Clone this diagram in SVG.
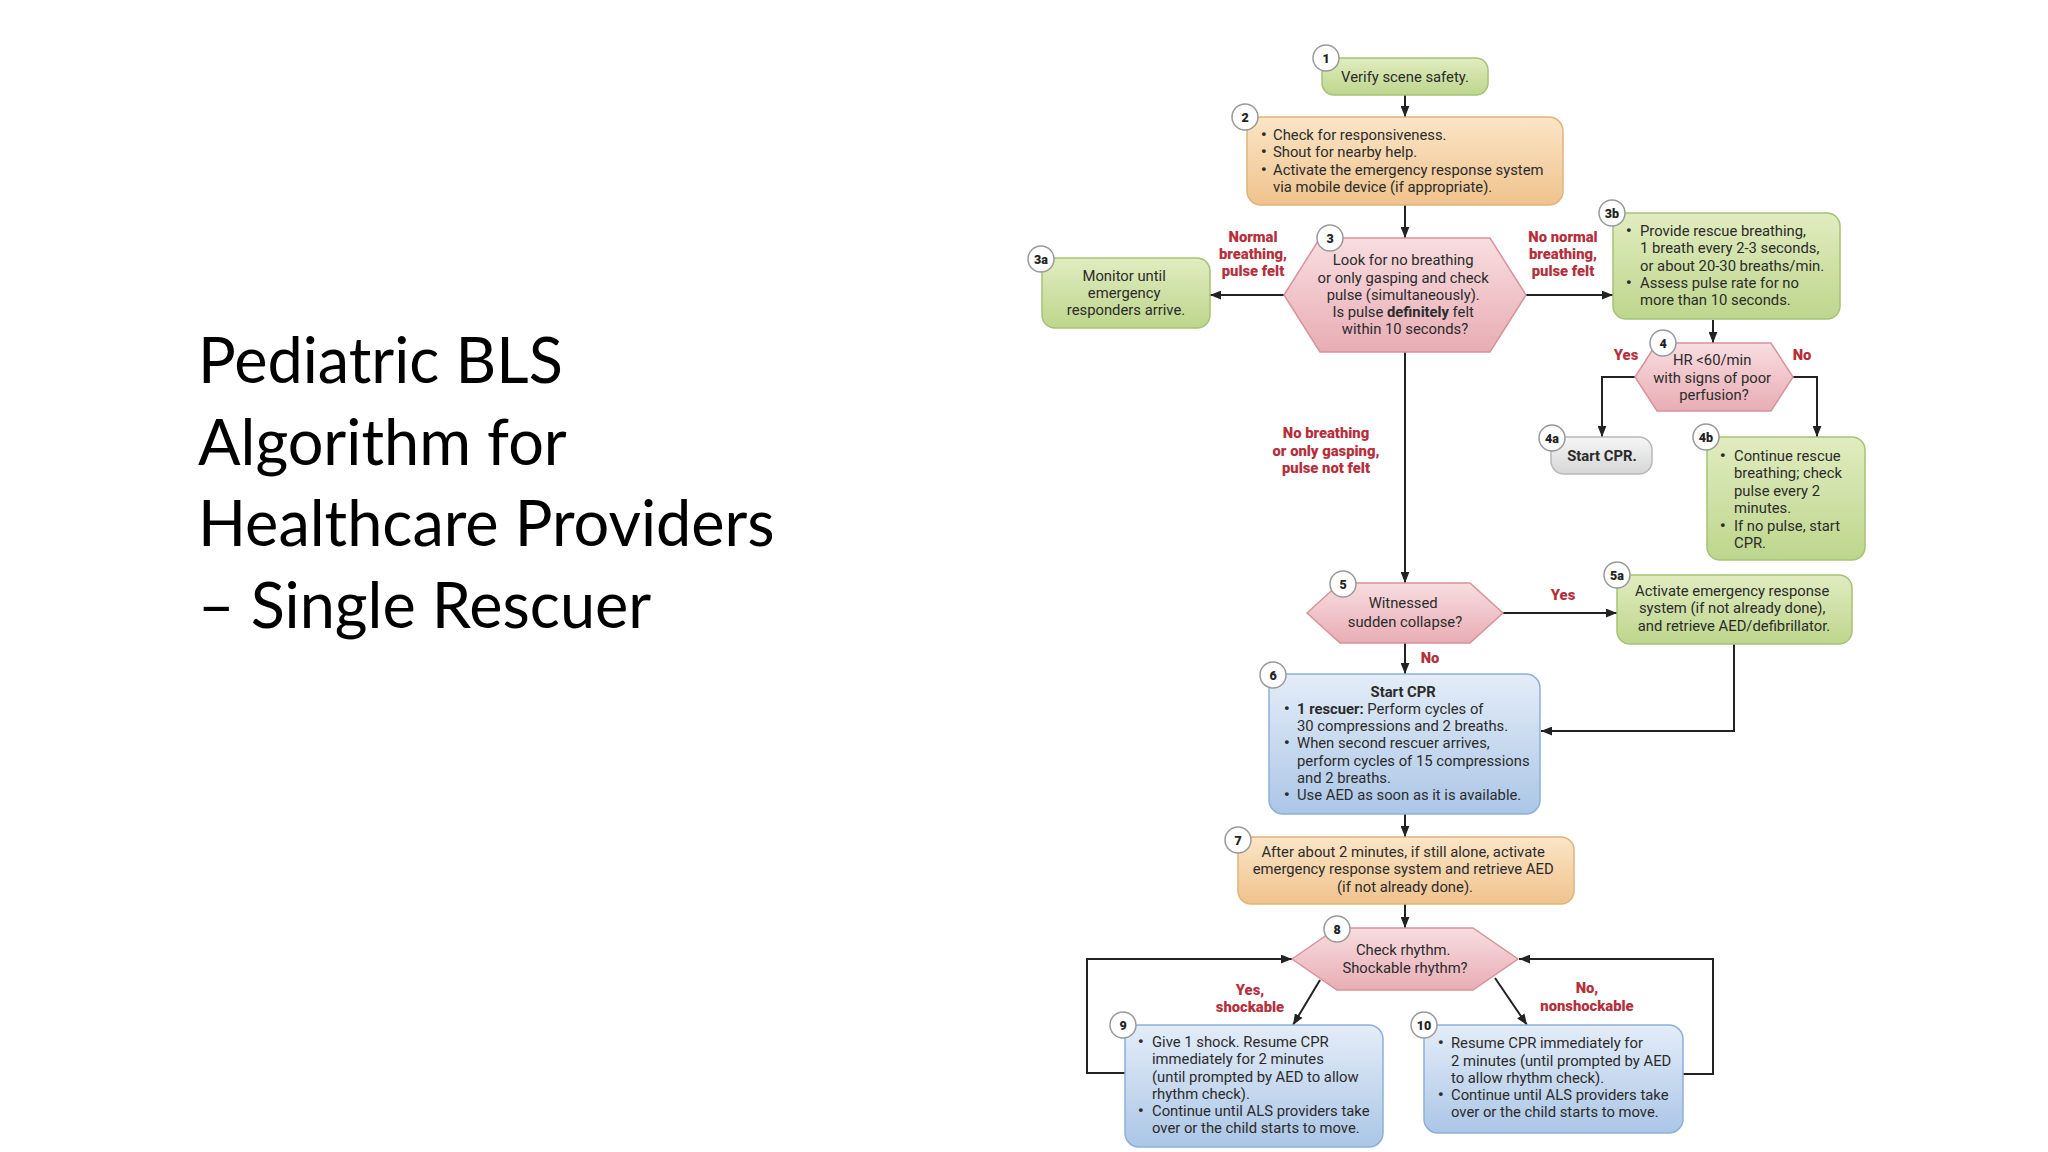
<svg xmlns="http://www.w3.org/2000/svg" width="2048" height="1152" viewBox="0 0 2048 1152">
<defs>
<linearGradient id="gGreen" x1="0" y1="0" x2="0" y2="1"><stop offset="0" stop-color="#e1ecc0"/><stop offset="1" stop-color="#bdd68c"/></linearGradient>
<linearGradient id="gOrange" x1="0" y1="0" x2="0" y2="1"><stop offset="0" stop-color="#fbe5c6"/><stop offset="1" stop-color="#efc38d"/></linearGradient>
<linearGradient id="gPink" x1="0" y1="0" x2="0" y2="1"><stop offset="0" stop-color="#f8dde0"/><stop offset="1" stop-color="#e8adb4"/></linearGradient>
<linearGradient id="gBlue" x1="0" y1="0" x2="0" y2="1"><stop offset="0" stop-color="#e4edf8"/><stop offset="1" stop-color="#abc6e6"/></linearGradient>
<linearGradient id="gGray" x1="0" y1="0" x2="0" y2="1"><stop offset="0" stop-color="#f6f6f6"/><stop offset="1" stop-color="#d6d6d6"/></linearGradient>
<marker id="ah" viewBox="0 0 10 8" refX="10" refY="4" markerWidth="11" markerHeight="9" markerUnits="userSpaceOnUse" orient="auto"><path d="M0,0 L10,4 L0,8 z" fill="#222"/></marker>
</defs>
<style>
.green{fill:url(#gGreen);stroke:#a6c274;stroke-width:1.5}
.orange{fill:url(#gOrange);stroke:#e0b47c;stroke-width:1.5}
.pink{fill:url(#gPink);stroke:#d8939b;stroke-width:1.5}
.blue{fill:url(#gBlue);stroke:#8db0d8;stroke-width:1.5}
.gray{fill:url(#gGray);stroke:#b8b8b8;stroke-width:1.5}
.t{font-family:Roboto,"Liberation Sans",sans-serif;font-size:14.8px;fill:#2b2b2b}
.c{text-anchor:middle}
.b{font-weight:700}
.bu{font-weight:900}
.lbl{font-family:Roboto,"Liberation Sans",sans-serif;font-size:14.8px;font-weight:900;fill:#b5303d;text-anchor:middle}
.badge circle{fill:#fff;stroke:#9a9a9a;stroke-width:1.5}
.badge text{font-family:Roboto,"Liberation Sans",sans-serif;font-size:12.5px;font-weight:900;fill:#222;text-anchor:middle}
.conn path{fill:none;stroke:#222;stroke-width:2;marker-end:url(#ah)}
.title{font-family:Lato,"Open Sans",sans-serif;font-size:63px;fill:#000}
</style>
<rect width="2048" height="1152" fill="#fff"/>

<g id="title">
<text class="title" x="198" y="383">Pediatric BLS</text>
<text class="title" x="198" y="465">Algorithm for</text>
<text class="title" x="198" y="546">Healthcare Providers</text>
<text class="title" x="198" y="628">– Single Rescuer</text>
</g>

<g id="connectors" class="conn">
<path d="M1405,95 L1405,117"/>
<path d="M1405,205 L1405,238"/>
<path d="M1284,295 L1210,295"/>
<path d="M1526,295 L1613,295"/>
<path d="M1713,320 L1713,343"/>
<path d="M1635,377 L1602,377 L1602,437"/>
<path d="M1793,377 L1817,377 L1817,437"/>
<path d="M1405,352 L1405,583"/>
<path d="M1503,613 L1617,613"/>
<path d="M1405,643 L1405,674"/>
<path d="M1734,644 L1734,731 L1541,731"/>
<path d="M1405,814 L1405,837"/>
<path d="M1405,904 L1405,928"/>
<path d="M1320,980 L1293,1025"/>
<path d="M1495,978 L1527,1025"/>
<path d="M1125,1073 L1087,1073 L1087,959 L1292,959"/>
<path d="M1683,1074 L1713,1074 L1713,959 L1519,959"/>
</g>

<g id="edge-labels">
<text class="lbl" x="1253" y="242">Normal</text>
<text class="lbl" x="1253" y="259">breathing,</text>
<text class="lbl" x="1253" y="276">pulse felt</text>
<text class="lbl" x="1563" y="242">No normal</text>
<text class="lbl" x="1563" y="259">breathing,</text>
<text class="lbl" x="1563" y="276">pulse felt</text>
<text class="lbl" x="1626" y="360">Yes</text>
<text class="lbl" x="1802" y="360">No</text>
<text class="lbl" x="1326" y="438">No breathing</text>
<text class="lbl" x="1326" y="456">or only gasping,</text>
<text class="lbl" x="1326" y="473">pulse not felt</text>
<text class="lbl" x="1563" y="600">Yes</text>
<text class="lbl" x="1430" y="663">No</text>
<text class="lbl" x="1250" y="995">Yes,</text>
<text class="lbl" x="1250" y="1012">shockable</text>
<text class="lbl" x="1587" y="993">No,</text>
<text class="lbl" x="1587" y="1011">nonshockable</text>
</g>

<g id="n1">
<rect class="green" x="1322" y="58" width="166" height="37" rx="12"/>
<text class="t c" x="1405" y="82">Verify scene safety.</text>
<g class="badge"><circle cx="1326" cy="58" r="13"/><text x="1326" y="62.5">1</text></g>
</g>

<g id="n2">
<rect class="orange" x="1247" y="117" width="316" height="88" rx="14"/>
<text class="t">
<tspan class="bu" x="1261" y="140">•</tspan><tspan x="1273" y="140">Check for responsiveness.</tspan>
<tspan class="bu" x="1261" y="157">•</tspan><tspan x="1273" y="157">Shout for nearby help.</tspan>
<tspan class="bu" x="1261" y="175">•</tspan><tspan x="1273" y="175">Activate the emergency response system</tspan>
<tspan x="1273" y="192">via mobile device (if appropriate).</tspan>
</text>
<g class="badge"><circle cx="1245" cy="117" r="13"/><text x="1245" y="121.5">2</text></g>
</g>

<g id="n3">
<polygon class="pink" points="1284,295 1320,238 1490,238 1526,295 1490,352 1320,352"/>
<text class="t c">
<tspan x="1405" y="265">Look for no breathing</tspan>
<tspan x="1405" y="283">or only gasping and check</tspan>
<tspan x="1405" y="300">pulse (simultaneously).</tspan>
<tspan x="1405" y="317">Is pulse <tspan class="b">definitely</tspan> felt</tspan>
<tspan x="1405" y="334">within 10 seconds?</tspan>
</text>
<g class="badge"><circle cx="1330" cy="238" r="13"/><text x="1330" y="242.5">3</text></g>
</g>

<g id="n3a">
<rect class="green" x="1042" y="258" width="168" height="70" rx="13"/>
<text class="t c">
<tspan x="1126" y="281">Monitor until</tspan>
<tspan x="1126" y="298">emergency</tspan>
<tspan x="1126" y="315">responders arrive.</tspan>
</text>
<g class="badge"><circle cx="1041" cy="259" r="13"/><text x="1041" y="263.5">3a</text></g>
</g>

<g id="n3b">
<rect class="green" x="1613" y="213" width="227" height="106" rx="13"/>
<text class="t">
<tspan class="bu" x="1626" y="236">•</tspan><tspan x="1640" y="236">Provide rescue breathing,</tspan>
<tspan x="1640" y="253">1 breath every 2-3 seconds,</tspan>
<tspan x="1640" y="271">or about 20-30 breaths/min.</tspan>
<tspan class="bu" x="1626" y="288">•</tspan><tspan x="1640" y="288">Assess pulse rate for no</tspan>
<tspan x="1640" y="305">more than 10 seconds.</tspan>
</text>
<g class="badge"><circle cx="1612" cy="213" r="13"/><text x="1612" y="217.5">3b</text></g>
</g>

<g id="n4">
<polygon class="pink" points="1635,377 1657,343 1771,343 1793,377 1771,411 1657,411"/>
<text class="t c">
<tspan x="1714" y="365">HR &lt;60/min</tspan>
<tspan x="1714" y="383">with signs of poor</tspan>
<tspan x="1714" y="400">perfusion?</tspan>
</text>
<g class="badge"><circle cx="1663" cy="343" r="13"/><text x="1663" y="347.5">4</text></g>
</g>

<g id="n4a">
<rect class="gray" x="1551" y="437" width="101" height="37" rx="13"/>
<text class="t c b" x="1602" y="461">Start CPR.</text>
<g class="badge"><circle cx="1552" cy="438" r="13"/><text x="1552" y="442.5">4a</text></g>
</g>

<g id="n4b">
<rect class="green" x="1707" y="437" width="158" height="123" rx="13"/>
<text class="t">
<tspan class="bu" x="1720" y="461">•</tspan><tspan x="1734" y="461">Continue rescue</tspan>
<tspan x="1734" y="478">breathing; check</tspan>
<tspan x="1734" y="496">pulse every 2</tspan>
<tspan x="1734" y="513">minutes.</tspan>
<tspan class="bu" x="1720" y="531">•</tspan><tspan x="1734" y="531">If no pulse, start</tspan>
<tspan x="1734" y="548">CPR.</tspan>
</text>
<g class="badge"><circle cx="1706" cy="437" r="13"/><text x="1706" y="441.5">4b</text></g>
</g>

<g id="n5">
<polygon class="pink" points="1307,613 1340,583 1470,583 1503,613 1470,643 1340,643"/>
<text class="t c">
<tspan x="1405" y="608">Witnessed</tspan>
<tspan x="1405" y="627">sudden collapse?</tspan>
</text>
<g class="badge"><circle cx="1343" cy="584" r="13"/><text x="1343" y="588.5">5</text></g>
</g>

<g id="n5a">
<rect class="green" x="1617" y="575" width="235" height="69" rx="13"/>
<text class="t c">
<tspan x="1734" y="596">Activate emergency response</tspan>
<tspan x="1734" y="613">system (if not already done),</tspan>
<tspan x="1734" y="631">and retrieve AED/defibrillator.</tspan>
</text>
<g class="badge"><circle cx="1617" cy="575" r="13"/><text x="1617" y="579.5">5a</text></g>
</g>

<g id="n6">
<rect class="blue" x="1269" y="674" width="271" height="140" rx="14"/>
<text class="t">
<tspan class="b" x="1405" y="697" text-anchor="middle">Start CPR</tspan>
<tspan class="bu" x="1284" y="714">•</tspan><tspan x="1297" y="714"><tspan class="b">1 rescuer:</tspan> Perform cycles of</tspan>
<tspan x="1297" y="731">30 compressions and 2 breaths.</tspan>
<tspan class="bu" x="1284" y="748">•</tspan><tspan x="1297" y="748">When second rescuer arrives,</tspan>
<tspan x="1297" y="766">perform cycles of 15 compressions</tspan>
<tspan x="1297" y="783">and 2 breaths.</tspan>
<tspan class="bu" x="1284" y="800">•</tspan><tspan x="1297" y="800">Use AED as soon as it is available.</tspan>
</text>
<g class="badge"><circle cx="1273" cy="675" r="13"/><text x="1273" y="679.5">6</text></g>
</g>

<g id="n7">
<rect class="orange" x="1238" y="837" width="336" height="67" rx="13"/>
<text class="t c">
<tspan x="1405" y="857">After about 2 minutes, if still alone, activate</tspan>
<tspan x="1405" y="874">emergency response system and retrieve AED</tspan>
<tspan x="1405" y="892">(if not already done).</tspan>
</text>
<g class="badge"><circle cx="1238" cy="840" r="13"/><text x="1238" y="844.5">7</text></g>
</g>

<g id="n8">
<polygon class="pink" points="1292,959 1337,928 1473,928 1518,959 1473,990 1337,990"/>
<text class="t c">
<tspan x="1405" y="955">Check rhythm.</tspan>
<tspan x="1405" y="973">Shockable rhythm?</tspan>
</text>
<g class="badge"><circle cx="1337" cy="929" r="13"/><text x="1337" y="933.5">8</text></g>
</g>

<g id="n9">
<rect class="blue" x="1125" y="1025" width="258" height="122" rx="14"/>
<text class="t">
<tspan class="bu" x="1138" y="1047">•</tspan><tspan x="1152" y="1047">Give 1 shock. Resume CPR</tspan>
<tspan x="1152" y="1064">immediately for 2 minutes</tspan>
<tspan x="1152" y="1082">(until prompted by AED to allow</tspan>
<tspan x="1152" y="1099">rhythm check).</tspan>
<tspan class="bu" x="1138" y="1116">•</tspan><tspan x="1152" y="1116">Continue until ALS providers take</tspan>
<tspan x="1152" y="1133">over or the child starts to move.</tspan>
</text>
<g class="badge"><circle cx="1123" cy="1025" r="13"/><text x="1123" y="1029.5">9</text></g>
</g>

<g id="n10">
<rect class="blue" x="1424" y="1025" width="259" height="108" rx="14"/>
<text class="t">
<tspan class="bu" x="1438" y="1048">•</tspan><tspan x="1451" y="1048">Resume CPR immediately for</tspan>
<tspan x="1451" y="1066">2 minutes (until prompted by AED</tspan>
<tspan x="1451" y="1083">to allow rhythm check).</tspan>
<tspan class="bu" x="1438" y="1100">•</tspan><tspan x="1451" y="1100">Continue until ALS providers take</tspan>
<tspan x="1451" y="1117">over or the child starts to move.</tspan>
</text>
<g class="badge"><circle cx="1424" cy="1025" r="13"/><text x="1424" y="1029.5">10</text></g>
</g>
</svg>
